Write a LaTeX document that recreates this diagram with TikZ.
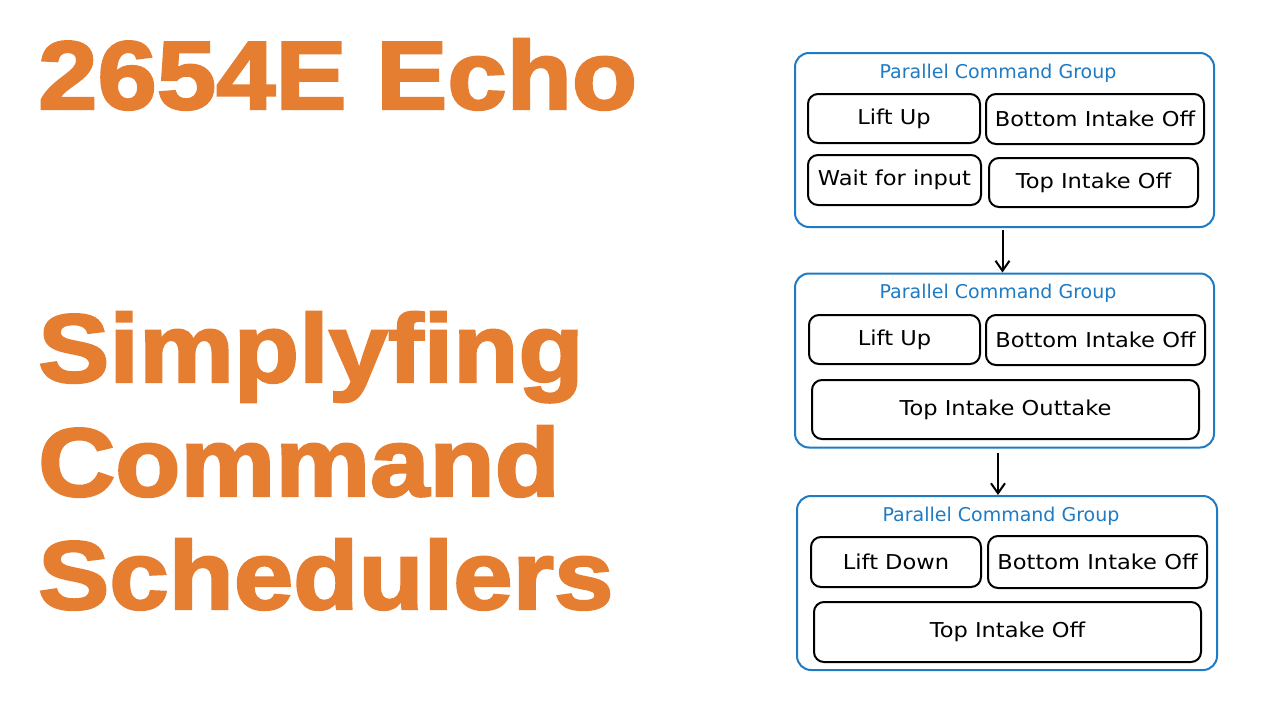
\documentclass[tikz,border=0pt]{standalone}
\usepackage{fontspec}
\setmainfont{DejaVu Sans}
\newfontfamily\titlefont[FakeStretch=1.1,FakeBold=2.5]{Liberation Sans Bold}
\newfontfamily\handfont{DejaVu Sans}
\newfontfamily\cmdfont[FakeStretch=1.1]{DejaVu Sans}
\usetikzlibrary{arrows.meta}
\definecolor{ttlorange}{HTML}{E67E32}
\definecolor{grpblue}{HTML}{1F7BC4}
\begin{document}
\begin{tikzpicture}[x=1pt,y=-1pt,
  bigtitle/.style={anchor=base west,inner sep=0pt,text=ttlorange,font=\titlefont\fontsize{97}{110}\selectfont},
  group/.style={draw=grpblue,line width=2pt,rounded corners=14pt,minimum width=#1,minimum height=174pt,inner sep=0pt},
  grptitle/.style={anchor=base,inner sep=0pt,text=grpblue,font=\handfont\fontsize{19}{22}\selectfont},
  cmd/.style={draw=black,line width=2pt,rounded corners=10pt,inner sep=0pt,font=\cmdfont\fontsize{20.5}{24}\selectfont},
  arr/.style={-{Straight Barb[length=10pt,width=14pt,line width=2pt]},line width=2pt,black}]
\useasboundingbox[fill=white] (0,0) rectangle (1280,720);

\node[bigtitle] (t1) at (38,109) {2654E Echo};
\node[bigtitle] (t2) at (38,382) {Simplyfing};
\node[bigtitle] (t3) at (38,496) {Command};
\node[bigtitle] (t4) at (38,609) {Schedulers};

% group 1
\node[group=419pt] (g1) at (1004.5,140) {};
\node[grptitle] (g1t) at (998,78) {Parallel Command Group};
\node[cmd,minimum width=172pt,minimum height=49pt] (a1) at (894,118.5) {Lift Up};
\node[cmd,minimum width=218pt,minimum height=50pt] (b1) at (1095,119) {Bottom Intake Off};
\node[cmd,minimum width=173pt,minimum height=50pt] (c1) at (894.5,180) {Wait for input};
\node[cmd,minimum width=209pt,minimum height=49pt] (d1) at (1093.5,182.5) {Top Intake Off};

% group 2
\node[group=419pt] (g2) at (1004.5,360.5) {};
\node[grptitle] (g2t) at (998,298) {Parallel Command Group};
\node[cmd,minimum width=171pt,minimum height=49pt] (a2) at (894.5,339.5) {Lift Up};
\node[cmd,minimum width=219pt,minimum height=50pt] (b2) at (1095.5,340) {Bottom Intake Off};
\node[cmd,minimum width=387pt,minimum height=59pt] (c2) at (1005.5,409.5) {Top Intake Outtake};

% group 3
\node[group=420pt] (g3) at (1007,583) {};
\node[grptitle] (g3t) at (1001,521) {Parallel Command Group};
\node[cmd,minimum width=170pt,minimum height=50pt] (a3) at (896,562) {Lift Down};
\node[cmd,minimum width=219pt,minimum height=52pt] (b3) at (1097.5,562) {Bottom Intake Off};
\node[cmd,minimum width=387pt,minimum height=60pt] (c3) at (1007.5,632) {Top Intake Off};

% arrows
\draw[arr] (g1.south -| 1002.5,0) ++(0,2) -- (g2.north -| 1002.5,0);
\draw[arr] (g2.south -| 998,0) ++(0,4) -- (g3.north -| 998,0);
\end{tikzpicture}
\end{document}
